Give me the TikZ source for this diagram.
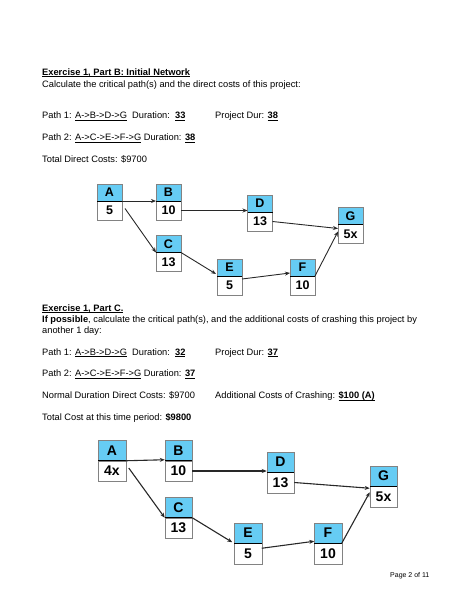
\documentclass[tikz,border=0pt]{standalone}
\usepackage{fontspec}
\setmainfont{Liberation Sans}
\usetikzlibrary{arrows.meta, positioning}
\definecolor{actblue}{RGB}{102, 204, 244}
\definecolor{boxgray}{RGB}{130, 130, 130}
\definecolor{arrowgray}{RGB}{40, 40, 40}
% underline close to the baseline, through the descenders
\newsavebox{\ulbox}
\newcommand{\ulx}[1]{\sbox{\ulbox}{#1}\rlap{\rule[-1.7pt]{\wd\ulbox}{0.6pt}}\usebox{\ulbox}}

\begin{document}
\begin{tikzpicture}[x=1pt, y=-1pt,
  txt/.style={anchor=base west, inner sep=0pt, font=\fontsize{9.3}{11}\selectfont},
  actB/.style={draw=boxgray, fill=actblue, minimum width=25pt, minimum height=17pt, inner sep=0pt, outer sep=0pt, font=\fontsize{12.5}{12.5}\selectfont\bfseries},
  durB/.style={actB, fill=white, minimum height=19pt},
  actC/.style={actB, minimum width=27.5pt, minimum height=20.5pt, font=\fontsize{14}{14}\selectfont\bfseries},
  durC/.style={actC, fill=white},
  midrule/.style={draw=black, line width=0.8pt},
  actarrow/.style={-{Stealth[length=5pt, width=4pt]}, draw=arrowgray, line width=0.9pt},
  bigarrow/.style={actarrow, line width=1.1pt}
]
  \useasboundingbox (0,0) rectangle (474,613);

  % Part B text
  \node[txt] (hdB) at (42,75) {\ulx{\textbf{Exercise 1, Part B: Initial Network}}};
  \node[txt] (askB) at (42,87) {Calculate the critical path(s) and the direct costs of this project:};
  \node[txt] (pathB1) at (42,118.5) {Path 1: \ulx{A->B->D->G}\ \ Duration:\ \ \ulx{\textbf{33}}};
  \node[txt] (projB) at (215,118.5) {Project Dur: \ulx{\textbf{38}}};
  \node[txt] (pathB2) at (42,140.5) {Path 2: \ulx{A->C->E->F->G} Duration: \ulx{\textbf{38}}};
  \node[txt] (costB) at (42,162) {Total Direct Costs: \$9700};

  % Part B network
  \node[actB] (bA) at (109.5,192.5) {A};
  \node[durB, below=0pt of bA] (bAd) {5};
  \node[actB] (bB) at (168.5,192.5) {B};
  \node[durB, below=0pt of bB] (bBd) {10};
  \node[actB] (bD) at (260,203.5) {D};
  \node[durB, below=0pt of bD] (bDd) {13};
  \node[actB] (bG) at (350.5,216) {G};
  \node[durB, below=0pt of bG] (bGd) {5x};
  \node[actB] (bC) at (168.5,244) {C};
  \node[durB, below=0pt of bC] (bCd) {13};
  \node[actB] (bE) at (229.5,267.5) {E};
  \node[durB, below=0pt of bE] (bEd) {5};
  \node[actB] (bF) at (302.5,267.5) {F};
  \node[durB, below=0pt of bF] (bFd) {10};

  \draw[midrule] (bA.south west) -- (bA.south east);
  \draw[midrule] (bB.south west) -- (bB.south east);
  \draw[midrule] (bD.south west) -- (bD.south east);
  \draw[midrule] (bG.south west) -- (bG.south east);
  \draw[midrule] (bC.south west) -- (bC.south east);
  \draw[midrule] (bE.south west) -- (bE.south east);
  \draw[midrule] (bF.south west) -- (bF.south east);

  \draw[actarrow] (bA.south east) -- (bB.south west);
  \draw[actarrow] (bBd.east) -- (bBd.east -| bD.west);
  \draw[actarrow] (bDd.east) -- ([yshift=-4pt]bG.south west);
  \draw[actarrow] ([xshift=3pt, yshift=2pt]bAd.east) -- (bC.south west);
  \draw[actarrow] (bC.south east) -- ([xshift=-1pt, yshift=2pt]bE.south west);
  \draw[actarrow] ([yshift=-3pt]bE.south east) -- ([yshift=3pt]bF.south west);
  \draw[actarrow] (bF.south east) -- ([yshift=-7pt]bG.south west);

  % Part C text
  \node[txt] (hdC) at (42,311) {\ulx{\textbf{Exercise 1, Part C.}}};
  \node[txt] (askC) at (42,322) {\textbf{If possible}, calculate the critical path(s), and the additional costs of crashing this project by};
  \node[txt] (askC2) at (42,333) {another 1 day:};
  \node[txt] (pathC1) at (42,355) {Path 1: \ulx{A->B->D->G}\ \ Duration:\ \ \ulx{\textbf{32}}};
  \node[txt] (projC) at (215,355) {Project Dur: \ulx{\textbf{37}}};
  \node[txt] (pathC2) at (42,376.5) {Path 2: \ulx{A->C->E->F->G} Duration: \ulx{\textbf{37}}};
  \node[txt] (normC) at (42,398.5) {Normal Duration Direct Costs: \$9700};
  \node[txt] (addC) at (215,398.5) {Additional Costs of Crashing: \ulx{\textbf{\$100 (A)}}};
  \node[txt] (totC) at (42,420) {Total Cost at this time period: \textbf{\$9800}};

  % Part C network
  \node[actC] (cA) at (112,450.5) {A};
  \node[durC, below=0pt of cA] (cAd) {4x};
  \node[actC] (cB) at (178.5,450.5) {B};
  \node[durC, below=0pt of cB] (cBd) {10};
  \node[actC] (cD) at (280.5,462) {D};
  \node[durC, below=0pt of cD] (cDd) {13};
  \node[actC] (cG) at (383.5,476) {G};
  \node[durC, below=0pt of cG] (cGd) {5x};
  \node[actC] (cC) at (178.5,507.5) {C};
  \node[durC, below=0pt of cC] (cCd) {13};
  \node[actC] (cE) at (248,533) {E};
  \node[durC, below=0pt of cE] (cEd) {5};
  \node[actC] (cF) at (328,533) {F};
  \node[durC, below=0pt of cF] (cFd) {10};

  \draw[midrule] (cA.south west) -- (cA.south east);
  \draw[midrule] (cB.south west) -- (cB.south east);
  \draw[midrule] (cD.south west) -- (cD.south east);
  \draw[midrule] (cG.south west) -- (cG.south east);
  \draw[midrule] (cC.south west) -- (cC.south east);
  \draw[midrule] (cE.south west) -- (cE.south east);
  \draw[midrule] (cF.south west) -- (cF.south east);

  \draw[bigarrow] (cA.south east) -- ([yshift=1pt]cB.south west);
  \draw[bigarrow] (cBd.east) -- (cBd.east -| cD.west);
  \draw[bigarrow] (cDd.east) -- ([yshift=-2pt]cG.south west);
  \draw[bigarrow] ([xshift=3pt, yshift=3pt]cAd.east) -- (cC.south west);
  \draw[bigarrow] (cC.south east) -- ([xshift=-2pt, yshift=1pt]cE.south west);
  \draw[bigarrow] ([yshift=-5pt]cE.south east) -- ([yshift=2pt]cF.south west);
  \draw[bigarrow] (cF.south east) -- ([yshift=-6pt]cG.south west);

  \node[anchor=base west, inner sep=0pt, font=\fontsize{7}{8}\selectfont] (pg) at (390,577) {Page 2 of 11};
\end{tikzpicture}
\end{document}
